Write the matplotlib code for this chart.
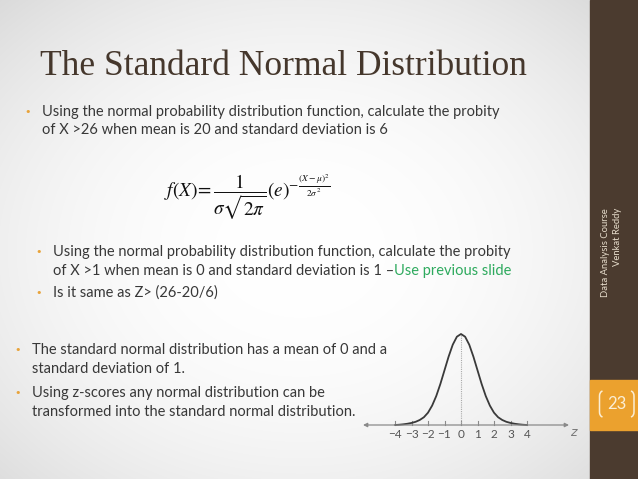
import numpy as np
import matplotlib
matplotlib.use("Agg")
import matplotlib.pyplot as plt
from matplotlib.patches import Rectangle, PathPatch
from matplotlib.path import Path

# ---------------- data ----------------
title = "The Standard Normal Distribution"
block1 = ["Using the normal probability distribution function, calculate the probity",
          "of X >26 when mean is 20 and standard deviation is 6"]
block2_l1 = "Using the normal probability distribution function, calculate the probity"
block2_l2a = "of X >1 when mean is 0 and standard deviation is 1 \u2013"
block2_l2b = "Use previous slide"
block2_b2 = "Is it same as Z> (26-20/6)"
block3 = [["The standard normal distribution has a mean of 0 and a",
           "standard deviation of 1."],
          ["Using z-scores any normal distribution can be",
           "transformed into the standard normal distribution."]]
side_text = ["Data Analysis Course", "Venkat Reddy"]
page_no = "23"
z_ticks = [-4, -3, -2, -1, 0, 1, 2, 3, 4]
z_tick_labels = ["\u22124", "\u22123", "\u22122", "\u22121", "0", "1", "2", "3", "4"]
# curve heights
curve_z = [-4, -3.75, -3.5, -3.25, -3, -2.75, -2.5, -2.25, -2, -1.75, -1.5, -1.25, -1,
           -0.75, -0.5, -0.25, 0, 0.25, 0.5, 0.75, 1, 1.25, 1.5, 1.75, 2, 2.25, 2.5,
           2.75, 3, 3.25, 3.5, 3.75, 4]
curve_f = [0.0, 0.0012, 0.003, 0.0055, 0.0090, 0.0140, 0.0220, 0.0340, 0.0540,
           0.0850, 0.1270, 0.1800, 0.2400, 0.3000, 0.3520, 0.3870, 0.3989, 0.3870,
           0.3520, 0.3000, 0.2400, 0.1800, 0.1270, 0.0850, 0.0540, 0.0340, 0.0220,
           0.0140, 0.0090, 0.0055, 0.003, 0.0012, 0.0]

W, H = 638, 479
fig = plt.figure(figsize=(W / 100, H / 100), dpi=100)

def P(x, y):
    return (x / W, 1 - y / H)

# background vignette
bg = fig.add_axes([0, 0, 1, 1])
yy, xx = np.mgrid[0:H, 0:W]
r = np.sqrt(((xx - 300) / 420.0) ** 2 + ((yy - 250) / 330.0) ** 2)
v = 1.0 - 0.13 * np.clip(r, 0, 1.4) ** 2.2
bg.imshow(np.dstack([v, v, v]), extent=[0, W, H, 0], aspect='auto', interpolation='bilinear')
bg.set_xlim(0, W); bg.set_ylim(H, 0); bg.axis('off')

# sidebar
bg.add_patch(Rectangle((590, 0), 48, H, color='#4b3b2f', zorder=2))
bg.add_patch(Rectangle((590, 380), 48, 50, color='#eba12e', zorder=3))
cream = '#fbeed5'
for sgn, x0 in [(1, 599.5), (-1, 634)]:
    verts = [(x0 + 3 * sgn, 391), (x0, 392), (x0, 396), (x0, 412), (x0, 416), (x0 + 3 * sgn, 417)]
    codes = [Path.MOVETO, Path.CURVE3, Path.CURVE3, Path.LINETO, Path.CURVE3, Path.CURVE3]
    bg.add_patch(PathPatch(Path(verts, codes), fill=False, ec=cream, lw=1.1, zorder=4))
fig.text(*P(617, 404), page_no, color=cream, fontsize=12, family='Lato',
         ha='center', va='center')
fig.text(*P(606, 208), side_text[0], color='#e6dccb', fontsize=6.8, family='Lato',
         rotation=90, rotation_mode='anchor', ha='right', va='center')
fig.text(*P(618, 208), side_text[1], color='#e6dccb', fontsize=6.8, family='Lato',
         rotation=90, rotation_mode='anchor', ha='right', va='center')

renderer = fig.canvas.get_renderer()

def fit(t, target):
    w = t.get_window_extent(renderer).width
    t.set_fontsize(t.get_fontsize() * target / w)
    return t.get_fontsize()

# title
tt = fig.text(*P(40, 75), title, family='Liberation Serif', fontsize=24,
              color='#45372c', ha='left', va='baseline')
fit(tt, 487)

body_c = '#383838'
bullet_c = '#e8a33a'
probe = fig.text(0, 0, block1[0], family='Lato', fontsize=11)
fs = fit(probe, 455)
probe.remove()

def line(x, y, s, color=body_c):
    return fig.text(*P(x, y), s, family='Lato', fontsize=fs, color=color,
                    ha='left', va='center')

def bullet(x, y):
    fig.text(*P(x, y), "\u2022", family='DejaVu Sans', fontsize=fs * 0.75,
             color=bullet_c, ha='center', va='center')

# block 1
bullet(28, 112)
line(42, 112, block1[0])
line(42, 130, block1[1])

# formula
ft = fig.text(*P(164, 197),
              r'$f(X)\!=\dfrac{1}{\sigma\sqrt{2\pi}}(e)^{-\frac{(X-\mu)^2}{2\sigma^2}}$',
              fontsize=14.5, color='#111111', ha='left', va='center',
              math_fontfamily='stix')
fit(ft, 166)

# block 2
bullet(39, 252)
line(53, 252, block2_l1)
t = line(53, 271, block2_l2a)
bb = t.get_window_extent(renderer)
line(53 + bb.width, 271, block2_l2b, color='#2eaa5e')
bullet(39, 293)
line(53, 293, block2_b2)

# block 3
ys = [[350, 369], [393, 412]]
for para, yy2 in zip(block3, ys):
    bullet(18, yy2[0])
    for s, yv in zip(para, yy2):
        line(32, yv, s)

# graph
unit = 16.5
cx, base, peak_px = 461, 425, 334
ax_l, ax_r, ax_t, ax_b = 355, 585, 325, 447
ppy = 0.3989 / (base - peak_px)
ax = fig.add_axes([ax_l / W, 1 - ax_b / H, (ax_r - ax_l) / W, (ax_b - ax_t) / H])
ax.set_xlim((ax_l - cx) / unit, (ax_r - cx) / unit)
ax.set_ylim(-(ax_b - base) * ppy, (base - ax_t) * ppy)
ax.axis('off')
ax.patch.set_alpha(0)
ax.annotate('', xy=((569 - cx) / unit, 0), xytext=((363 - cx) / unit, 0),
            arrowprops=dict(arrowstyle='<|-|>', color='#8a8a8a', lw=0.9,
                            mutation_scale=6, shrinkA=0, shrinkB=0))
for zt, lab in zip(z_ticks, z_tick_labels):
    ax.plot([zt, zt], [0, 4 * ppy], color='#8a8a8a', lw=0.8)
    ax.text(zt, -9.5 * ppy, lab, ha='center', va='center', fontsize=8.5,
            family='Lato', color='#555555')
ax.text((573 - cx) / unit, -7 * ppy, 'z', ha='center', va='center', fontsize=9,
        family='DejaVu Sans', style='italic', color='#777777')
ax.plot([0, 0], [0, max(curve_f)], color='#aaaaaa', lw=0.8, ls=(0, (1, 1)))
ax.plot(curve_z, curve_f, color='#3a3a3a', lw=1.3, solid_capstyle='round',
        solid_joinstyle='round')

fig.savefig('out.png', dpi=100)
